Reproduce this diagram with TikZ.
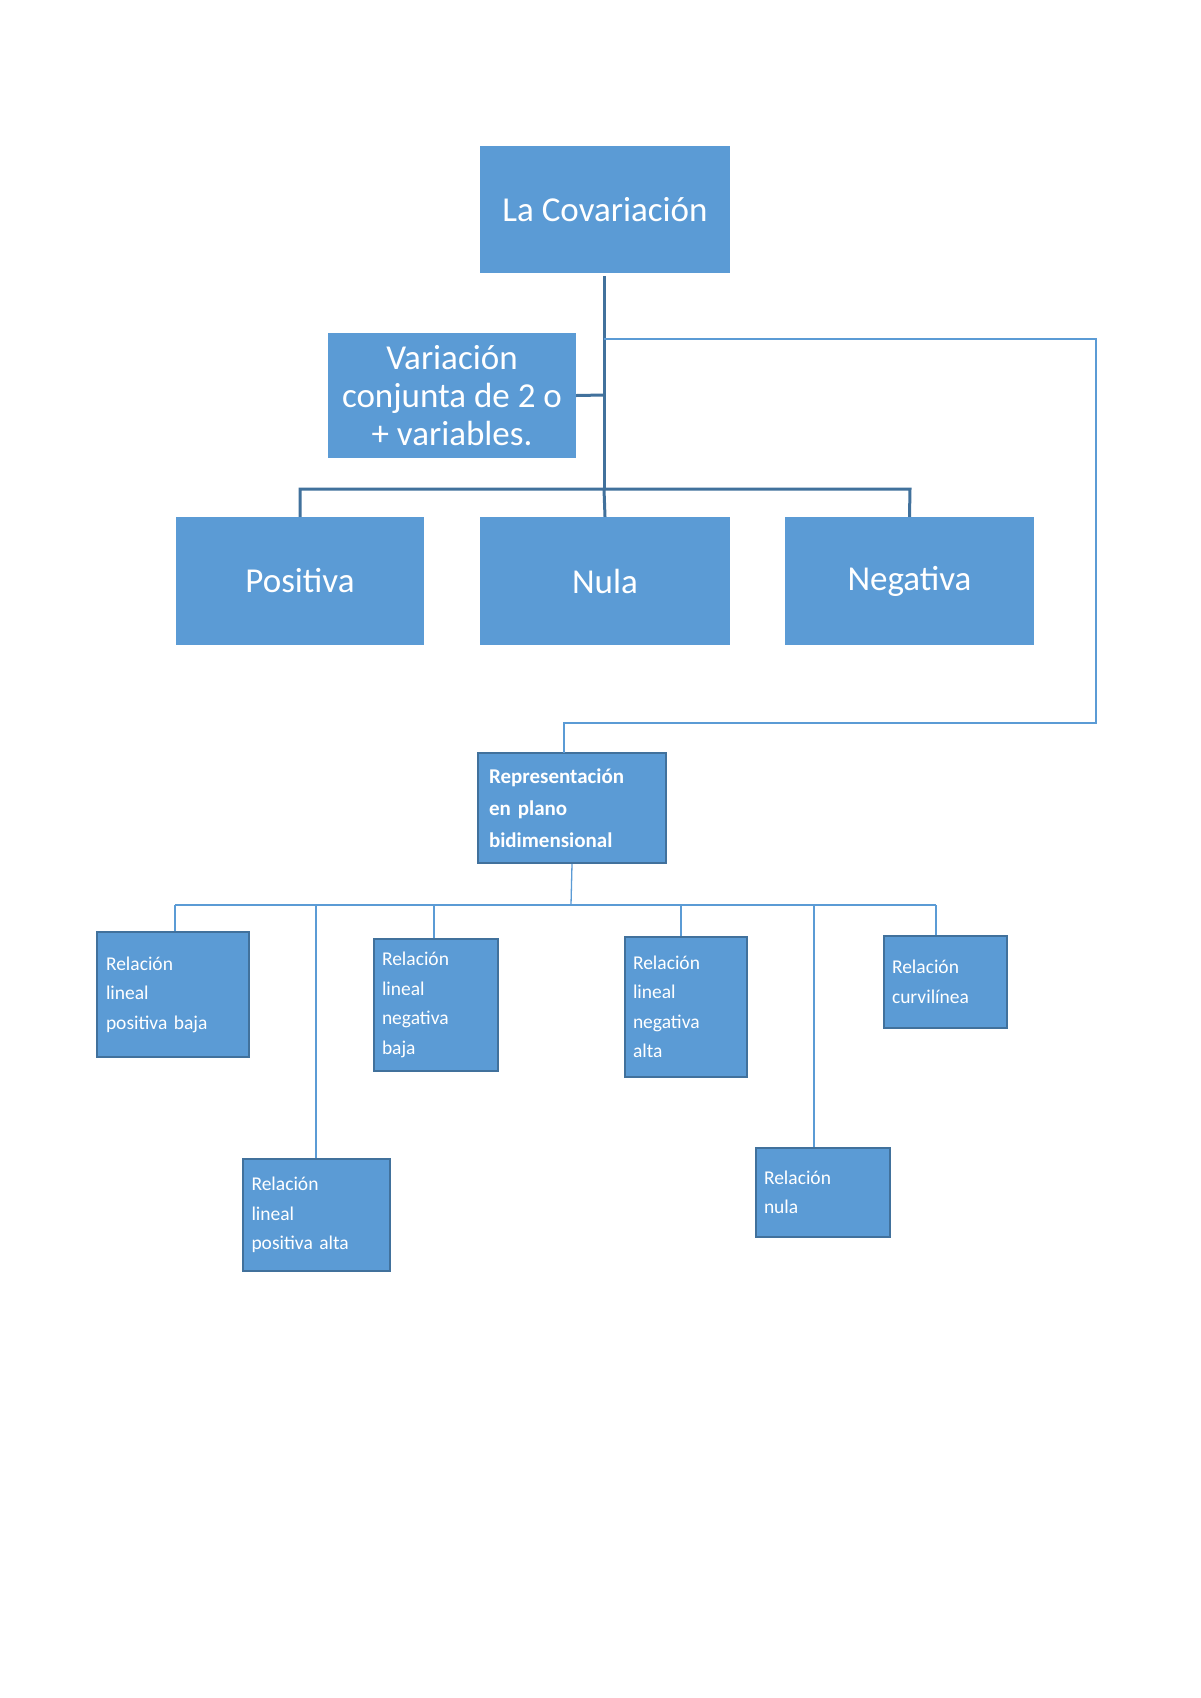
\documentclass[tikz,border=0pt]{standalone}
\usepackage{fontspec}
\setmainfont{Carlito}
\begin{document}
\begin{tikzpicture}[x=1pt,y=-1pt,
  big/.style={fill=fillc,draw=none,text=white,font=\fontsize{35}{42}\selectfont,align=center,inner sep=0},
  small/.style={fill=fillc,draw=borderc,line width=2pt,text=white,font=\fontsize{19.5}{29.5}\selectfont,align=left,inner sep=0},
  thick link/.style={draw=borderc,line width=3pt},
  thin link/.style={draw=fillc,line width=1.3pt}]
\definecolor{fillc}{HTML}{5B9BD5}
\definecolor{borderc}{HTML}{41719C}
\useasboundingbox (0,0) rectangle (1200,1698);
\fill[white] (0,0) rectangle (1200,1698);
% big boxes
\node[big,minimum width=250,minimum height=127] (cov) at (605,209.5) {La Covariación};
\node[big,minimum width=248,minimum height=125] (var) at (452,395.5) {Variación\\[-4pt]conjunta de 2 o\\[-4pt]+ variables.};
\node[big,minimum width=248,minimum height=128] (pos) at (300,581) {Positiva};
\node[big,minimum width=250,minimum height=128] (nul) at (605,581) {Nula};
\node[big,minimum width=249,minimum height=128] (neg) at (909.5,581) {Negativa};
% thick connectors
\coordinate (t1) at (604,395);
\coordinate (t2) at (604,489);
\coordinate (tb) at (604,339);
\draw[thick link] (604,276) -- (t2);
\draw[thick link] (var.east) -- (t1);
\draw[thick link] (pos.north) -- (300,489) -- (910,489) -- (neg.north);
\draw[thick link] (t2) -- (nul.north);
% Representacion
\node[small,font=\bfseries\fontsize{21}{32}\selectfont,minimum width=188,minimum height=110,text width=166] (rep) at (572,808) {Representación\\en plano\\bidimensional};
\coordinate (r1) at (1096,339);
\coordinate (r2) at (1096,723);
\coordinate (r3) at (564,723);
\draw[thin link] (tb) -- (r1) -- (r2) -- (r3) -- (564,753);
% small boxes
\node[small,minimum width=152,minimum height=125,text width=134,anchor=north west] (a) at (96,931) {Relación\\lineal\\positiva baja};
\node[small,minimum width=147,minimum height=112,text width=130,anchor=north west] (b) at (242,1158) {Relación\\lineal\\positiva alta};
\node[small,minimum width=124,minimum height=132,text width=108,anchor=north west] (c) at (373,938) {Relación\\lineal\\negativa\\baja};
\node[small,minimum width=122,minimum height=140,text width=106,anchor=north west] (d) at (624,936) {Relación\\lineal\\negativa\\alta};
\node[small,minimum width=123,minimum height=92,text width=107,anchor=north west] (e) at (883,935) {Relación\\curvilínea};
\node[small,minimum width=134,minimum height=89,text width=118,anchor=north west] (f) at (755,1147) {Relación\\nula};
\coordinate (bus) at (571,905);
\draw[thin link] (rep.south) -- (bus);
\draw[thin link] (175,905) -- (936,905);
\draw[thin link] (175,905) -- (a.north -| 175,0);
\draw[thin link] (316,905) -- (b.north -| 316,0);
\draw[thin link] (434,905) -- (c.north -| 434,0);
\draw[thin link] (681,905) -- (d.north -| 681,0);
\draw[thin link] (936,905) -- (e.north -| 936,0);
\draw[thin link] (814,905) -- (f.north -| 814,0);
\end{tikzpicture}
\end{document}
